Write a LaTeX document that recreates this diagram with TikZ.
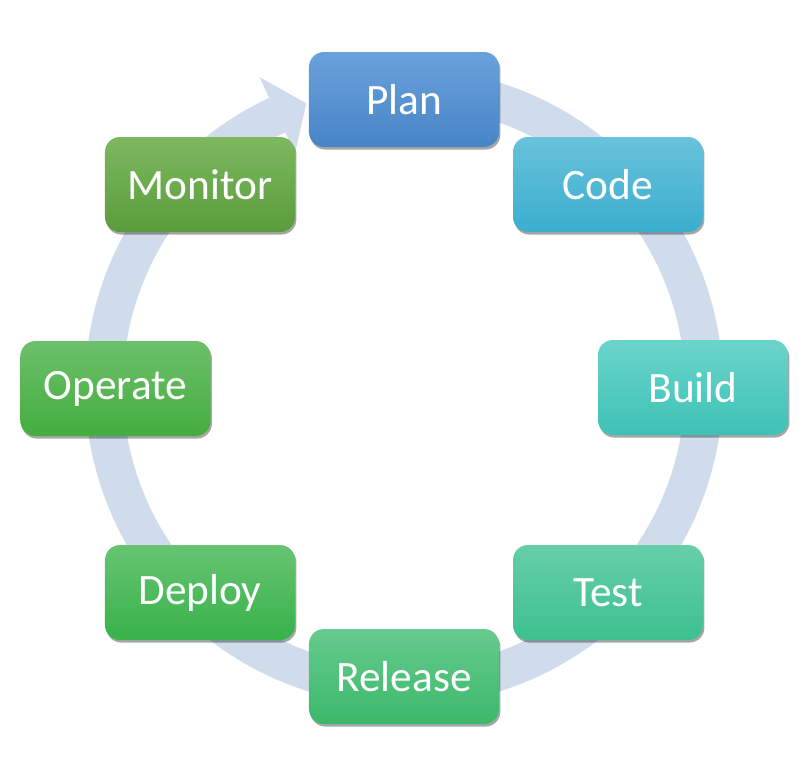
\documentclass[tikz,border=0pt]{standalone}
\usepackage{fontspec}
\setmainfont{Carlito}
\usetikzlibrary{shadows,calc}
\definecolor{ringc}{HTML}{D0DCEB}
\tikzset{
  stage/.style={rounded corners=0.45cm, minimum width=5.7cm, minimum height=2.85cm,
    text=white, font=\fontsize{37}{40}\selectfont, inner sep=0pt,
    drop shadow={shadow xshift=1.2pt, shadow yshift=-2.2pt, opacity=0.35, fill=black}},
  ring/.style={draw=ringc, line width=32.4pt},
}
\begin{document}
\begin{tikzpicture}[x=0.03cm,y=-0.03cm]
\useasboundingbox (0,0) rectangle (810,773);
\coordinate (c) at (404,387);
\draw[ring] ($(c)+(275:300)$) arc (275:605.5:300);
\fill[ringc] ($(c)+(605:342)$) -- ($(c)+(611:300)$) -- ($(c)+(605:258)$) -- cycle;
\definecolor{t1}{HTML}{6AA1DB}\definecolor{b1}{HTML}{4785C8}
\definecolor{t2}{HTML}{68C2DA}\definecolor{b2}{HTML}{3BAECF}
\definecolor{t3}{HTML}{6AD4CB}\definecolor{b3}{HTML}{3EC2B6}
\definecolor{t4}{HTML}{66CFA8}\definecolor{b4}{HTML}{3DC08F}
\definecolor{t5}{HTML}{66CB8E}\definecolor{b5}{HTML}{3BB86A}
\definecolor{t6}{HTML}{67C472}\definecolor{b6}{HTML}{37B24A}
\definecolor{t7}{HTML}{6CC06A}\definecolor{b7}{HTML}{44AD3F}
\definecolor{t8}{HTML}{7DB85F}\definecolor{b8}{HTML}{5A9C3C}
\node[stage, top color=t1, bottom color=b1] (plan) at (404,99.5) {Plan};
\node[stage, top color=t2, bottom color=b2] (code) at (608,184.5) {Code};
\node[stage, top color=t3, bottom color=b3] (build) at (693,387.5) {Build};
\node[stage, top color=t4, bottom color=b4] (test) at (608,592.5) {Test};
\node[stage, top color=t5, bottom color=b5] (release) at (404,676.5) {Release};
\node[stage, top color=t6, bottom color=b6] (deploy) at (200,592.5) {Deploy};
\node[stage, top color=t7, bottom color=b7] (operate) at (115.5,388.5) {Operate};
\node[stage, top color=t8, bottom color=b8] (monitor) at (200,184.5) {Monitor};
\end{tikzpicture}
\end{document}
